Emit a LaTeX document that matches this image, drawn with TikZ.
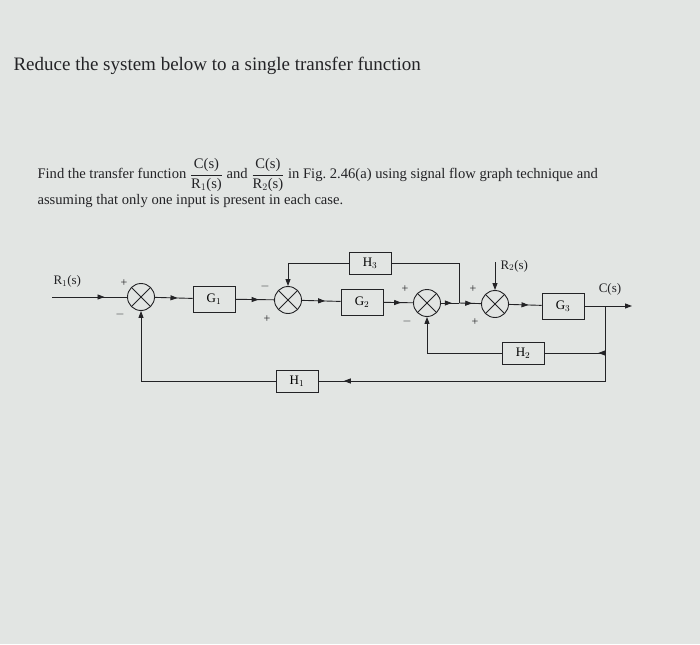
\documentclass[tikz,border=0pt]{standalone}
\usepackage{fontspec}
\setmainfont{Liberation Serif}
\usetikzlibrary{decorations.markings,arrows.meta}
\definecolor{bg}{RGB}{226,229,227}
\definecolor{ink}{RGB}{35,35,38}
\begin{document}
\begin{tikzpicture}[x=1pt,y=-1pt,
  ink/.style={draw=ink,line width=0.9pt},
  blk/.style={draw=ink,line width=0.9pt,minimum width=42pt,minimum height=26pt,inner sep=0pt,font=\fontsize{13}{15}\selectfont},
  sblk/.style={blk,minimum height=22pt},
  sumj/.style={draw=ink,line width=0.9pt,circle,minimum size=27pt,inner sep=0pt,path picture={\draw[ink] (path picture bounding box.north west)--(path picture bounding box.south east) (path picture bounding box.north east)--(path picture bounding box.south west);}},
  mid/.style={postaction={decorate},decoration={markings,mark=at position #1 with {\arrow[ink]{Triangle[length=7pt,width=5pt]}}}},
  tip/.style={-{Triangle[length=7pt,width=5pt]}},
  lab/.style={text=ink,font=\fontsize{13}{15}\selectfont},
  sg/.style={font=\fontsize{12}{14}\selectfont,text=ink}]
\fill[bg] (0,0) rectangle (700,644);
\useasboundingbox (0,0) rectangle (700,644);
\node[anchor=west,font=\fontsize{19}{22}\selectfont,text=ink] (title) at (10,66) {Reduce the system below to a single transfer function};
\node[anchor=west,font=\fontsize{14.6}{17}\selectfont,text=ink] (l1) at (34,175) {Find the transfer function $\displaystyle\frac{\textrm{C(s)}}{\textrm{R$_1$(s)}}$ and $\displaystyle\frac{\textrm{C(s)}}{\textrm{R$_2$(s)}}$ in Fig.\ 2.46(a) using signal flow graph technique and};
\node[anchor=west,font=\fontsize{14.6}{17}\selectfont,text=ink] (l2) at (34,201) {assuming that only one input is present in each case.};
% blocks
\node[sumj] (s1) at (141,297) {};
\node[blk] (g1) at (214,299) {G$_1$};
\node[sumj] (s2) at (288,300) {};
\node[blk] (g2) at (362,302) {G$_2$};
\node[sumj] (s3) at (427,303) {};
\node[sumj] (s4) at (495,304) {};
\node[blk] (g3) at (563,306) {G$_3$};
\node[sblk] (h3) at (370,263) {H$_3$};
\node[sblk] (h2) at (523,353) {H$_2$};
\node[sblk] (h1) at (297,381) {H$_1$};
\coordinate (in) at (52,297);
\coordinate (out) at (632,306);
\coordinate (br) at (605,306);
\coordinate (jn) at (459,303);
\coordinate (r2) at (495,262);
% connectors
\draw[ink,mid=0.7] (in) -- (s1);
\draw[ink,mid=0.6] (s1) -- (g1);
\draw[ink,mid=0.6] (g1) -- (s2);
\draw[ink,mid=0.6] (s2) -- (g2);
\draw[ink,mid=0.6] (g2) -- (s3);
\draw[ink,mid=0.6] (s3) -- (jn);
\draw[ink,mid=0.6] (jn) -- (s4);
\draw[ink,mid=0.6] (s4) -- (g3);
\draw[ink,tip] (g3) -- (out);
\draw[ink,tip] (r2) -- (s4);
\draw[ink,tip] (h3.west) -| (s2.north);
\draw[ink] (h3.east) -| (jn);
\draw[ink,mid=0.5] (br) |- (h2.east);
\draw[ink,tip] (h2.west) -| (s3.south);
\draw[ink,mid=0.93] (br) |- (h1.east);
\draw[ink,tip] (h1.west) -| (s1.south);
% labels
\node[lab,anchor=south west] (lr1) at (50,291) {R$_1$(s)};
\node[lab,anchor=west] (lr2) at (497,266) {R$_2$(s)};
\node[lab] (lc) at (610,289) {C(s)};
\node[sg] at (124,283) {+};
\node[sg] at (120,314) {$-$};
\node[sg] at (265,286) {$-$};
\node[sg] at (267,319) {+};
\node[sg] at (405,289) {+};
\node[sg] at (407,321) {$-$};
\node[sg] at (473,289) {+};
\node[sg] at (475,322) {+};
\end{tikzpicture}
\end{document}
